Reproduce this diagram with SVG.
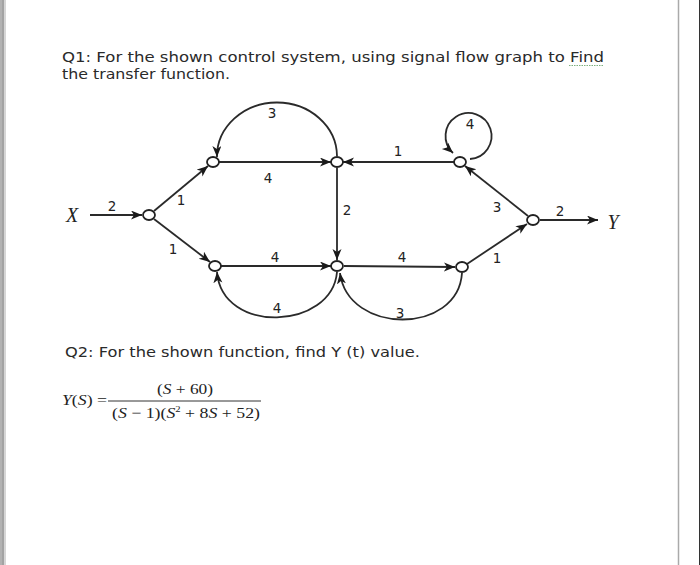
<svg xmlns="http://www.w3.org/2000/svg" width="700" height="565" viewBox="0 0 700 565">
<defs>
<marker id="ah" markerUnits="userSpaceOnUse" markerWidth="13" markerHeight="11" refX="11" refY="4.5" orient="auto">
<path d="M0,0 L11,4.5 L0,9 L3,4.5 z" fill="#1a1a1a"/>
</marker>
<style>
.q{font-family:"DejaVu Sans","Open Sans",sans-serif;font-size:14px;fill:#2a2a2a}
.g{font-family:"DejaVu Sans","Liberation Sans",sans-serif;font-size:13.5px;fill:#222;text-anchor:middle}
.v{font-family:"Liberation Serif",serif;font-style:italic;font-size:20px;fill:#222;text-anchor:middle}
.e{fill:none;stroke:#2a2a2a;stroke-width:1.8;marker-end:url(#ah)}
.n{fill:#fff;stroke:#222;stroke-width:1.8}
.f{font-family:"Liberation Serif",serif;font-size:15px;fill:#222}
.i{font-style:italic}
</style>
</defs>
<rect width="700" height="565" fill="#fff"/>
<g id="frame">
<line x1="1" y1="0" x2="1" y2="565" stroke="#999" stroke-width="1.5"/>
<line x1="3" y1="0" x2="3" y2="565" stroke="#666" stroke-width="1.2"/>
<line x1="5" y1="0" x2="5" y2="565" stroke="#bbb" stroke-width="1.2"/>
<line x1="678.5" y1="0" x2="678.5" y2="565" stroke="#aaa" stroke-width="1.5"/>
<line x1="699.5" y1="0" x2="699.5" y2="565" stroke="#333" stroke-width="1"/>
</g>
<g id="question1">
<text class="q" x="62" y="62" textLength="542" lengthAdjust="spacingAndGlyphs">Q1: For the shown control system, using signal flow graph to Find</text>
<line x1="569" y1="65.5" x2="604" y2="65.5" stroke="#7fb07f" stroke-width="1.2" stroke-dasharray="1.5,1"/>
<text class="q" x="62" y="79" textLength="168" lengthAdjust="spacingAndGlyphs">the transfer function.</text>
</g>
<g id="connectors">
<path class="e" d="M90,215 L142,215"/>
<path class="e" d="M154,211 L208,166"/>
<path class="e" d="M154,219 L210,262"/>
<path class="e" d="M219,162 L331,162"/>
<path class="e" d="M454,162 L343,162"/>
<path class="e" d="M337,168 L337,260"/>
<path class="e" d="M221,266 L331,266"/>
<path class="e" d="M344,266 L455,267"/>
<path class="e" d="M467,264 L527,224"/>
<path class="e" d="M528,216 L465,166"/>
<path class="e" d="M540,220 L598,220"/>
<path class="e" d="M337,156 A60 54 0 0 0 217,157"/>
<path class="e" d="M470,159 A23 23 0 1 0 453,153"/>
<path class="e" d="M337,272 C332,330 222,335 217,272"/>
<path class="e" d="M462,273 C458,335 348,335 340,273"/>
</g>
<g id="labels">
<text class="v" x="72" y="222">X</text>
<text class="v" x="613" y="229">Y</text>
<text class="g" x="112" y="211">2</text>
<text class="g" x="181" y="205">1</text>
<text class="g" x="173" y="254">1</text>
<text class="g" x="268" y="183">4</text>
<text class="g" x="272" y="118">3</text>
<text class="g" x="398" y="156">1</text>
<text class="g" x="470" y="129">4</text>
<text class="g" x="347" y="215">2</text>
<text class="g" x="497" y="212">3</text>
<text class="g" x="560" y="216">2</text>
<text class="g" x="275" y="262">4</text>
<text class="g" x="402" y="262">4</text>
<text class="g" x="497" y="263">1</text>
<text class="g" x="277" y="313">4</text>
<text class="g" x="400" y="318">3</text>
</g>
<g id="nodeA"><ellipse class="n" cx="149" cy="215" rx="6" ry="5"/></g>
<g id="nodeB"><ellipse class="n" cx="213" cy="162" rx="6" ry="5"/></g>
<g id="nodeC"><ellipse class="n" cx="215" cy="266" rx="6" ry="5"/></g>
<g id="nodeD"><ellipse class="n" cx="337" cy="162" rx="6" ry="5"/></g>
<g id="nodeE"><ellipse class="n" cx="460" cy="162" rx="6" ry="5"/></g>
<g id="nodeG"><ellipse class="n" cx="337" cy="266" rx="6" ry="5"/></g>
<g id="nodeH"><ellipse class="n" cx="462" cy="267" rx="6" ry="5"/></g>
<g id="nodeF"><ellipse class="n" cx="533" cy="220" rx="6" ry="5"/></g>
<g id="question2">
<text class="q" x="65" y="357" textLength="355" lengthAdjust="spacingAndGlyphs">Q2: For the shown function, find Y (t) value.</text>
<text class="f" x="62" y="405" textLength="45" lengthAdjust="spacingAndGlyphs"><tspan class="i">Y</tspan>(<tspan class="i">S</tspan>) =</text>
<text class="f" x="157" y="394" textLength="56" lengthAdjust="spacingAndGlyphs">(<tspan class="i">S</tspan> + 60)</text>
<line x1="108" y1="401" x2="261" y2="401" stroke="#333" stroke-width="1"/>
<text class="f" x="112" y="418" textLength="148" lengthAdjust="spacingAndGlyphs">(<tspan class="i">S</tspan> − 1)(<tspan class="i">S</tspan><tspan dy="-6" font-size="9">2</tspan><tspan dy="6"> + 8</tspan><tspan class="i">S</tspan> + 52)</text>
</g>
</svg>
